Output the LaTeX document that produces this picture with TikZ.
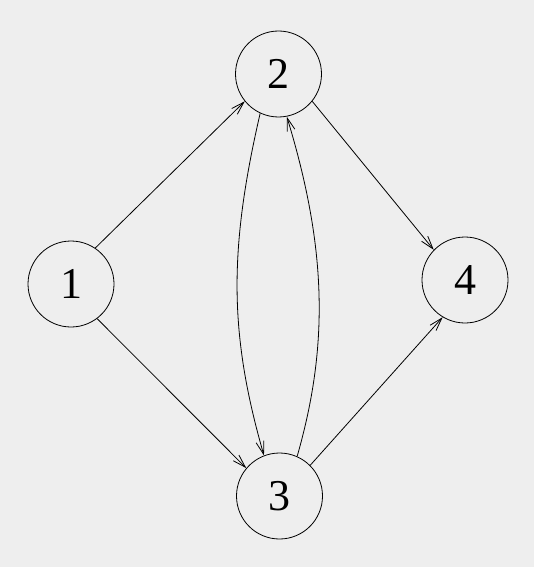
\documentclass[tikz,border=0pt]{standalone}
\usepackage{fontspec}
\setmainfont{Liberation Serif}
\usetikzlibrary{arrows.meta, positioning}
\definecolor{bggray}{RGB}{238,238,238}
\tikzstyle{vertex} = [circle, draw=black, line width=0.8pt, minimum size=86pt, inner sep=0pt, font=\fontsize{44}{52}\selectfont]
\tikzstyle{arrow} = [line width=0.8pt, -{Straight Barb[length=13pt, width=8pt]}]
\begin{document}
\begin{tikzpicture}[x=1pt, y=1pt]
			\fill [bggray] (0,0) rectangle (534,-567);
			\useasboundingbox (0,0) rectangle (534,-567);
			% Nodes
			\node (v1) [vertex] at (71,-284) {1};
			\node (v2) [vertex] at (278.5,-74) {2};
			\node (v3) [vertex] at (279.5,-496) {3};
			\node (v4) [vertex] at (465,-280) {4};
			% Arrows
			\draw [arrow] (v1.56) -- (v2.219);
			\draw [arrow] (v1.-53) -- (v3.140);
			\draw [arrow] (v2.-39) -- (v4.136);
			\draw [arrow] (v3.45) -- (v4.-121);
			\draw [arrow] (v2.-115) .. controls +(-103:141) and +(106:126) .. (v3.111);
			\draw [arrow] (v3.66) .. controls +(74:113) and +(-73:140) .. (v2.-79);
		\end{tikzpicture}
\end{document}
